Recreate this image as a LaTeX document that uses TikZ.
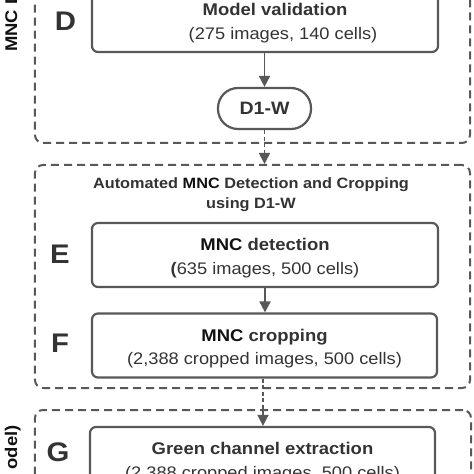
\documentclass[tikz,border=0pt]{standalone}
\usepackage{fontspec}
\setmainfont{Liberation Sans}[FakeStretch=1.09]
\usetikzlibrary{arrows.meta}
\definecolor{ln}{HTML}{585858}
\definecolor{tx}{HTML}{333333}
\definecolor{dk}{HTML}{111111}
\newcommand{\ttl}{\fontsize{17}{24}\selectfont\bfseries\rule{0pt}{18.5bp}}
\newcommand{\sub}{\fontsize{16.8}{24}\selectfont\mdseries}
\begin{document}
\begin{tikzpicture}[x=1bp,y=-1bp,
  outer/.style={draw=ln, line width=2bp, dash pattern=on 8bp off 5bp, rounded corners=8bp, inner sep=0pt},
  stepbox/.style={draw=ln, line width=2.2bp, rounded corners=6bp, minimum height=64bp, align=center, text=tx, inner sep=0pt, font=\fontsize{17}{24}\selectfont},
  pill/.style={draw=ln, line width=2.2bp, rounded corners=20bp, minimum width=93bp, minimum height=41bp, text=tx, font=\fontsize{18}{20}\selectfont\bfseries},
  letter/.style={text=tx, font=\fontsize{27}{30}\selectfont\bfseries},
  side/.style={text=dk, rotate=90, inner sep=0pt, font=\fontsize{17}{20}\selectfont\bfseries},
  arr/.style={draw=ln, line width=1.8bp, -{Triangle[length=11bp,width=11bp]}},
  darr/.style={draw=ln, line width=1.6bp, dash pattern=on 4bp off 2.5bp, -{Triangle[length=11bp,width=11bp]}}
]
\useasboundingbox (0,0) rectangle (474,474);
\clip (0,0) rectangle (474,474);
% outer dashed groups
\node[outer, minimum width=435bp, minimum height=183bp] (g1) at (252.5,51.5) {};
\node[outer, minimum width=435bp, minimum height=223bp] (g2) at (252.5,276.5) {};
\node[outer, minimum width=436bp, minimum height=110bp] (g3) at (253,465) {};
% side labels
\node[side, anchor=base west] (s1) at (17,52) {MNC D};
\node[side, anchor=base east] (s2) at (17,425) {odel)};
% step boxes
\node[stepbox, minimum width=346bp] (D) at (265,20) {\ttl\hspace*{20bp}Model validation\\\sub\hspace*{36bp}(275 images, 140 cells)};
\node[pill] (W) at (264.5,108.5) {D1-W};
\node[text=tx, align=center, font=\fontsize{15}{20}\selectfont\bfseries] (hdr) at (251,195) {Automated \textcolor{dk}{MNC} Detection and Cropping\\using D1-W};
\node[stepbox, minimum width=346bp] (E) at (265,255) {\ttl\textcolor{dk}{MNC} detection\\\sub\textbf{(}635 images, 500 cells)};
\node[stepbox, minimum width=345bp] (F) at (264.5,345.5) {\ttl\textcolor{dk}{MNC} cropping\\\sub(2,388 cropped images, 500 cells)};
\node[stepbox, minimum width=345bp] (G) at (262.5,459) {\ttl Green channel extraction\\\sub(2,388 cropped images, 500 cells)};
% letters
\node[letter] (lD) at (65.5,21) {D};
\node[letter] (lE) at (60,254) {E};
\node[letter] (lF) at (60,343) {F};
\node[letter] (lG) at (58,452) {G};
% connectors
\draw[arr] (D.south -| W.north) -- (W.north);
\draw[darr] (W.south) -- (W.south |- g2.north);
\draw[arr] (E.south) -- (E.south |- F.north);
\draw[darr] (F.south -| 263,0) -- (G.north -| 263,0);
\end{tikzpicture}
\end{document}
